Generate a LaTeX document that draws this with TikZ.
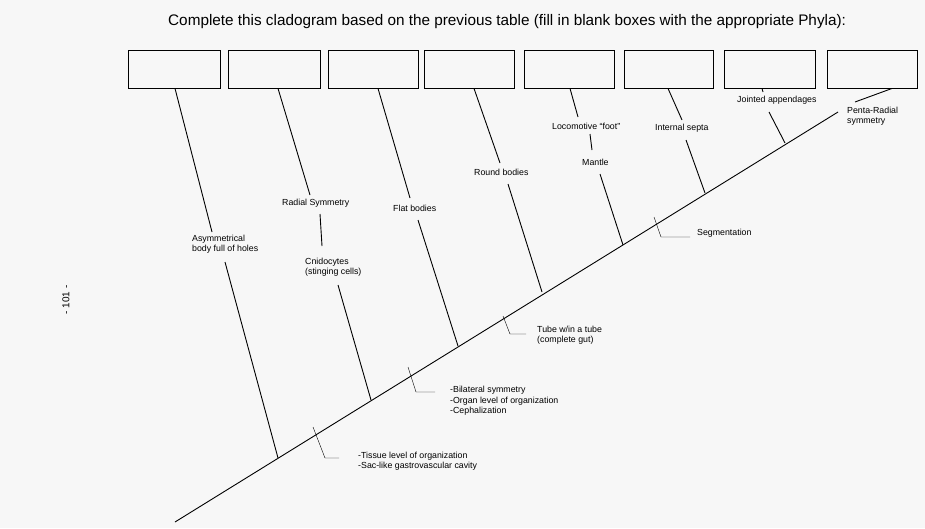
\documentclass[tikz,border=0pt]{standalone}
\usepackage{fontspec}
\setmainfont{Liberation Sans}
\begin{document}
\begin{tikzpicture}[x=1pt,y=-1pt,
 box/.style={draw,line width=0.9pt},
 ln/.style={line width=0.9pt},
 lab/.style={font=\fontsize{8.8}{10.5}\selectfont,align=left,anchor=west,inner sep=0pt}]
\useasboundingbox[fill=gray!6] (0,0) rectangle (925,528);
\node[font=\fontsize{15.3}{18}\selectfont,anchor=west,inner sep=0pt] (title) at (168,22) {Complete this cladogram based on the previous table (fill in blank boxes with the appropriate Phyla):};
\foreach \n/\a/\b in {1/128/220,2/228/320,3/328/418,4/424/514,5/524/614,6/624/713,7/724/815,8/827/917}
 \node[box,minimum width=\b pt-\a pt,minimum height=38pt,inner sep=0pt] (b\n) at ({(\a+\b)/2},69) {};
\coordinate (m0) at (175,522); \coordinate (m1) at (838,112);
\draw[ln] (m0)--(m1);
% labels
\node[lab] (l1) at (192,244) {Asymmetrical\\body full of holes};
\node[lab] (l2) at (282,203) {Radial Symmetry};
\node[lab] (l2b) at (305,267) {Cnidocytes\\(stinging cells)};
\node[lab] (l3) at (393,208) {Flat bodies};
\node[lab] (l4) at (474,172) {Round bodies};
\node[lab] (l5) at (552,126) {Locomotive ``foot''};
\node[lab] (l5b) at (582,162) {Mantle};
\node[lab] (l6) at (655,128) {Internal septa};
\node[lab] (l7) at (737,100) {Jointed appendages};
\node[lab] (l8) at (847,116) {Penta-Radial\\symmetry};
\node[lab] (t1) at (358,461) {-Tissue level of organization\\-Sac-like gastrovascular cavity};
\node[lab] (t2) at (450,401) {-Bilateral symmetry\\-Organ level of organization\\-Cephalization};
\node[lab] (t3) at (537,335) {Tube w/in a tube\\(complete gut)};
\node[lab] (t4) at (697,233) {Segmentation};
\node[font=\fontsize{10}{11}\selectfont,rotate=90] (pg) at (66,300) {- 101 -};
% branches
\draw[ln] (b1.south-|175,0) -- (212,232); \draw[ln] (225,262) -- (278,458);
\draw[ln] (b2.south-|278,0) -- (310,195); \draw[ln] (320,214) -- (322,246); \draw[ln] (338,285) -- (371,400);
\draw[ln] (b3.south-|378,0) -- (410,198); \draw[ln] (418,220) -- (458,346);
\draw[ln] (b4.south-|474,0) -- (500,163); \draw[ln] (508,184) -- (542,292);
\draw[ln] (b5.south-|570,0) -- (578,117); \draw[ln] (590,134) -- (592,150); \draw[ln] (600,174) -- (623,245);
\draw[ln] (b6.south-|668,0) -- (682,120); \draw[ln] (686,140) -- (705,193);
\draw[ln] (b7.south-|762,0) -- (763,92); \draw[ln] (769,112) -- (785,143);
\draw[ln] (b8.south-|892,0) -- (855,102);
% ticks
\draw (313,427)--(325,458)--(339,458);
\draw (408,367)--(416,392)--(435,392);
\draw (503,316)--(510,334)--(526,334);
\draw (654,217)--(661,237)--(690,237);
\end{tikzpicture}
\end{document}
